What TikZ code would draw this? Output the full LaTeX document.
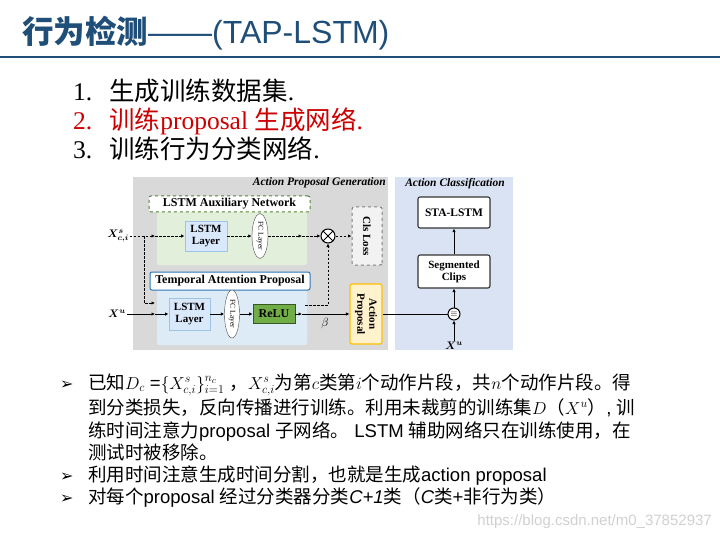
\documentclass[tikz,border=0pt]{standalone}
\usepackage{fontspec}
\usepackage{amsmath,amssymb}
\usepackage{bm}
\usepackage{tikz}
\usetikzlibrary{positioning,shapes.geometric,arrows.meta}
\setmainfont{Liberation Serif}
\newfontfamily\cjk{Noto Sans CJK SC}
\newfontfamily\arial{Liberation Sans}
\newfontfamily\dejavu{DejaVu Sans}

\definecolor{titleblue}{HTML}{1F4E79}
\definecolor{panelgray}{HTML}{D9D9D9}
\definecolor{panelblue}{HTML}{DAE3F3}
\definecolor{auxgreen}{HTML}{E2EFDA}
\definecolor{auxline}{HTML}{548235}
\definecolor{tapblue}{HTML}{DDEBF7}
\definecolor{tapline}{HTML}{2E75B6}
\definecolor{lstmfill}{HTML}{DAE8FC}
\definecolor{lstmline}{HTML}{9DC3E6}
\definecolor{relugreen}{HTML}{70AD47}
\definecolor{reluline}{HTML}{385723}
\definecolor{actfill}{HTML}{FFF2CC}
\definecolor{actline}{HTML}{FFC000}
\definecolor{wmgray}{HTML}{D0D0D0}

\tikzset{
  diag/.style={font=\bfseries\fontsize{11}{12}\selectfont, align=center, inner sep=1pt},
  lstmbox/.style={diag, draw=lstmline, fill=lstmfill, line width=0.9pt},
  fcell/.style={ellipse, draw=black!70, fill=white, inner sep=0pt, rotate=-90,
    font=\fontsize{7.5}{7.5}\selectfont},
  clsbox/.style={diag, draw=black!80, fill=white, rounded corners=2pt, line width=1.1pt},
  arr/.style={-{Latex[length=3.5pt,width=3.5pt]}, line width=0.8pt},
  darr/.style={arr, dash pattern=on 2.5pt off 1.5pt},
  bullet/.style={anchor=base west, font=\arial\fontsize{18.5}{22}\selectfont, inner sep=0pt},
  bulmark/.style={anchor=base west, font=\dejavu\fontsize{16}{16}\selectfont, inner sep=0pt},
}

\begin{document}
\begin{tikzpicture}[x=1pt,y=-1pt]
\useasboundingbox (0,0) rectangle (720,540);

% title
\node(title) [anchor=west, inner sep=0pt, text=titleblue] at (22,33)
{{\cjk\bfseries\fontsize{31.5}{32}\selectfont 行为检测}{\arial\fontsize{32}{32}\selectfont ——(TAP-LSTM)}};
\draw[titleblue, line width=1.5pt] (0,57) -- (720,57);

% steps
\node(step1) [anchor=base west, inner sep=0pt, font=\fontsize{25.5}{28}\selectfont] at (73,101)
{1.\hspace{17pt}{\cjk 生成训练数据集}.};
\node(step2) [anchor=base west, inner sep=0pt, font=\fontsize{25.5}{28}\selectfont, text=red!80!black] at (73,130)
{2.\hspace{17pt}{\cjk 训练}proposal {\cjk 生成网络}.};
\node(step3) [anchor=base west, inner sep=0pt, font=\fontsize{25.5}{28}\selectfont] at (73,159)
{3.\hspace{17pt}{\cjk 训练行为分类网络}.};

% panels
\fill[panelgray] (133,177) rectangle (388,350);
\fill[panelblue] (395,177) rectangle (513,350);
\fill[auxgreen, rounded corners=2pt] (157,210) rectangle (307,265);
\fill[tapblue, rounded corners=2pt] (157,285) rectangle (307,345);

\node(apg) [font=\bfseries\itshape\fontsize{11.5}{12}\selectfont, anchor=east, inner sep=1pt] at (387,183) {Action Proposal Generation};
\node(acl) [font=\bfseries\itshape\fontsize{11.5}{12}\selectfont, inner sep=1pt] at (455,184) {Action Classification};

\node(auxlbl) [diag, draw=auxline, dashed, fill=white, rounded corners=2pt, line width=1pt,
  minimum width=161pt, minimum height=16pt, font=\bfseries\fontsize{12}{12}\selectfont] at (229.5,204) {LSTM Auxiliary Network};
\node(taplbl) [diag, draw=tapline, fill=white, rounded corners=2pt, line width=1pt,
  minimum width=160pt, minimum height=18pt, font=\bfseries\fontsize{12}{12}\selectfont] at (230,281) {Temporal Attention Proposal};

\node(xs) [inner sep=1pt] at (118,236) {\fontsize{11}{11}\selectfont$\bm{X^{s}_{c,i}}$};
\node(xu) [inner sep=1pt] at (117,314) {\fontsize{11}{11}\selectfont$\bm{X^{u}}$};

\node(lstmA) [lstmbox, minimum width=42pt, minimum height=30pt] at (206,236) {LSTM\\Layer};
\node(fcA)   [fcell, minimum width=45pt, minimum height=16pt] at (260,236) {FC Layer};
\node(mul)   [circle, draw, line width=1pt, minimum size=14pt, inner sep=0pt, fill=white,
  path picture={\draw[line width=0.9pt] (path picture bounding box.north west) -- (path picture bounding box.south east)
  (path picture bounding box.north east) -- (path picture bounding box.south west);}] at (328,236) {};
\node(cls)   [diag, rotate=-90, draw=black!50, dashed, fill=black!5, rounded corners=2pt, line width=1pt,
  minimum width=58pt, minimum height=30pt] at (367,236) {Cls Loss};

\node(lstmB) [lstmbox, minimum width=41pt, minimum height=32pt] at (189.5,314) {LSTM\\Layer};
\node(fcB)   [fcell, minimum width=48pt, minimum height=15pt] at (232,314) {FC Layer};
\node(relu)  [diag, draw=reluline, fill=relugreen, line width=0.8pt,
  minimum width=42pt, minimum height=19pt, font=\bfseries\fontsize{12}{12}\selectfont] at (274,314) {ReLU};
\node(beta)  at (325,323) {\fontsize{12}{12}\selectfont$\beta$};
\node(act)   [diag, rotate=-90, draw=actline, fill=actfill, rounded corners=2pt, line width=1.2pt,
  minimum width=60pt, minimum height=32pt] at (366,314) {Action\\Proposal};

\node(sta)   [clsbox, minimum width=72pt, minimum height=31pt, font=\bfseries\fontsize{11.5}{12}\selectfont] at (454,212.5) {STA-LSTM};
\node(seg)   [clsbox, minimum width=72pt, minimum height=33pt] at (454,271.5) {Segmented\\Clips};
\node(eqv)   [circle, draw, line width=1pt, minimum size=12pt, inner sep=0pt, fill=white,
  font=\bfseries\fontsize{9}{9}\selectfont] at (454,314) {$\equiv$};
\node(xuB)   [inner sep=1pt] at (454,346) {\fontsize{11}{11}\selectfont$\bm{X^{u}}$};

\coordinate(ga1) at (155,236);
\coordinate(ga2) at (302,236);
\coordinate(br1) at (144,236);
\coordinate(br2) at (144,303);
\coordinate(ga3) at (155,303);
\coordinate(gb1) at (155,314);
\coordinate(gb2) at (302,314);
\coordinate(rl1) at (305,305);
\coordinate(rl2) at (328,305);

\draw[darr] (xs) -- (ga1);
\draw[darr] (ga1) -- (lstmA);
\draw[darr] (lstmA) -- (fcA);
\draw[darr] (fcA) -- (ga2);
\draw[darr] (ga2) -- (mul);
\draw[darr] (mul) -- (cls);
\draw[darr] (br1) -- (br2) -- (ga3);
\draw[arr] (xu) -- (gb1);
\draw[arr] (gb1) -- (lstmB);
\draw[arr] (lstmB) -- (fcB);
\draw[arr] (fcB) -- (relu);
\draw[arr] (relu) -- (gb2);
\draw[arr] (gb2) -- (act);
\draw[darr] (rl1) -- (rl2) -- (mul);
\draw[line width=0.8pt] (act) -- (eqv);
\draw[arr] (xuB) -- (eqv);
\draw[arr] (eqv) -- (seg);
\draw[arr] (seg) -- (sta);

% notes
\node(bul1) [bulmark] at (60,389) {➢};
\node(line1) [bullet] at (88,389)
{{\cjk 已知}$D_c$ =$\{X^s_{c,i}\}^{n_c}_{i=1}$ {\cjk ，}$X^s_{c,i}${\cjk 为第}$c${\cjk 类第}$i${\cjk 个动作片段，共}$n${\cjk 个动作片段。得}};
\node(line2) [bullet] at (88,414)
{{\cjk 到分类损失，反向传播进行训练。利用未裁剪的训练集}$D${\cjk （}$X^u${\cjk ）}, {\cjk 训}};
\node(line3) [bullet] at (88,437)
{{\cjk 练时间注意力}proposal {\cjk 子网络。} LSTM {\cjk 辅助网络只在训练使用，在}};
\node(line4) [bullet] at (88,459) {{\cjk 测试时被移除。}};
\node(bul2) [bulmark] at (60,481) {➢};
\node(line5) [bullet] at (88,481)
{{\cjk 利用时间注意生成时间分割，也就是生成}action proposal};
\node(bul3) [bulmark] at (60,503) {➢};
\node(line6) [bullet] at (88,503)
{{\cjk 对每个}proposal {\cjk 经过分类器分类}\textit{C+1}{\cjk 类（}\textit{C}{\cjk 类}+{\cjk 非行为类）}};

\node(wm) [anchor=east, text=wmgray, font=\arial\fontsize{15}{15}\selectfont, inner sep=0pt] at (712,522)
{https://blog.csdn.net/m0\_37852937};
\end{tikzpicture}
\end{document}
